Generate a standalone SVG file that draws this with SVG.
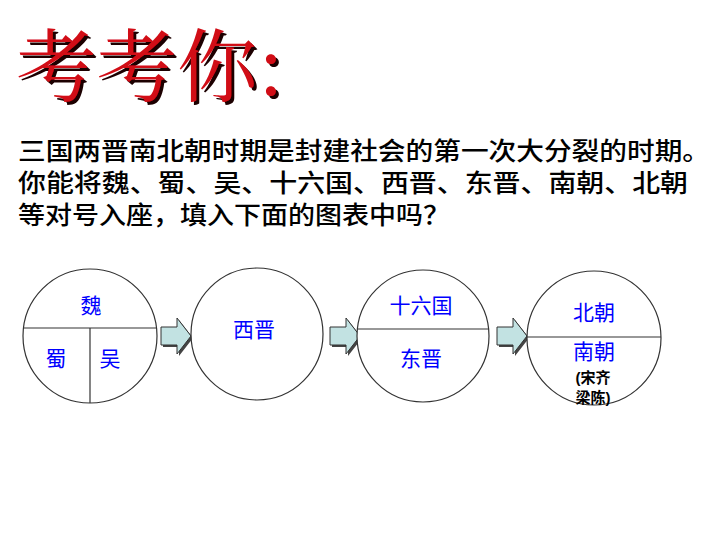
<svg xmlns="http://www.w3.org/2000/svg" width="720" height="540" viewBox="0 0 720 540">
<style>
.c{fill:#fff;stroke:#333;stroke-width:1.2}
.l{stroke:#333;stroke-width:1.2}
.b{font-family:"Noto Sans CJK SC","Liberation Sans",sans-serif;fill:#0000ff;font-size:21px;text-anchor:middle}
.s{font-family:"Liberation Sans","Noto Sans CJK SC",sans-serif;fill:#000;font-size:15px;font-weight:bold;text-anchor:middle}
.t{font-family:"Noto Sans CJK SC",sans-serif;font-size:24.5px;fill:#000;font-weight:500}
.a{fill:#c2e2e2;stroke:#333;stroke-width:1}
</style>
<defs>
<path id="ar" d="M0,-9 H16 V-18 L30,0 L16,18 V9 H0 Z"/>
<filter id="sh" x="-5%" y="-5%" width="115%" height="120%"><feDropShadow dx="3" dy="3" stdDeviation="0.3" flood-color="#1a0000" flood-opacity="1"/></filter>
</defs>
<rect width="720" height="540" fill="#fff"/>
<text x="16" y="95" fill="#d10a14" filter="url(#sh)" font-family="'Noto Serif CJK SC','Noto Sans CJK SC',serif" font-size="80" textLength="268" lengthAdjust="spacingAndGlyphs">考考你:</text>
<g class="t">
<text x="18" y="160" textLength="692" lengthAdjust="spacingAndGlyphs">三国两晋南北朝时期是封建社会的第一次大分裂的时期。</text>
<text x="18" y="192" textLength="670" lengthAdjust="spacingAndGlyphs">你能将魏、蜀、吴、十六国、西晋、东晋、南朝、北朝</text>
<text x="18" y="224" textLength="432" lengthAdjust="spacingAndGlyphs">等对号入座，填入下面的图表中吗？</text>
</g>
<g id="connectors">
<use href="#ar" x="163" y="338" fill="#444"/>
<use href="#ar" class="a" x="161" y="336"/>
<use href="#ar" x="332" y="338" fill="#444"/>
<use href="#ar" class="a" x="330" y="336"/>
<use href="#ar" x="499" y="338" fill="#444"/>
<use href="#ar" class="a" x="497" y="336"/>
</g>
<g id="n1">
<circle class="c" cx="90" cy="336" r="67"/>
<line class="l" x1="23" y1="328" x2="157" y2="328"/>
<line class="l" x1="90" y1="328" x2="90" y2="403"/>
<text class="b" x="91" y="313">魏</text>
<text class="b" x="56" y="366">蜀</text>
<text class="b" x="110" y="366">吴</text>
</g>
<g id="n2">
<circle class="c" cx="257" cy="334" r="66"/>
<text class="b" x="254" y="337">西晋</text>
</g>
<g id="n3">
<circle class="c" cx="423" cy="336" r="66"/>
<line class="l" x1="357" y1="329" x2="489" y2="329"/>
<text class="b" x="421" y="313">十六国</text>
<text class="b" x="421" y="366">东晋</text>
</g>
<g id="n4">
<circle class="c" cx="594" cy="338" r="67"/>
<line class="l" x1="527" y1="337" x2="661" y2="337"/>
<text class="b" x="594" y="320">北朝</text>
<text class="b" x="594" y="359">南朝</text>
<text class="s" x="593" y="383">(宋齐</text>
<text class="s" x="593" y="403">梁陈)</text>
</g>
</svg>
